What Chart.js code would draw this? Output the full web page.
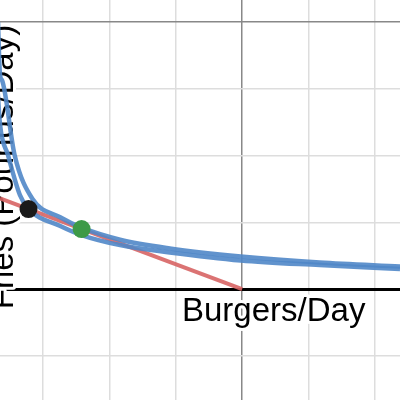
<!DOCTYPE html>
<html><head><style>html,body{margin:0;padding:0;background:#fff}#w{width:400px;height:400px}</style>
<script src="https://cdn.jsdelivr.net/npm/chart.js@4"></script></head>
<body><div id="w"><canvas id="c"></canvas></div>
<script>
const curveAx=[0.30,0.35,0.47,0.65,0.78,1.25,1.58,2.16,2.91,3.98,5.17,6.38];
const curveAy=[3.20,2.47,2.01,1.41,1.20,0.95,0.81,0.66,0.55,0.43,0.36,0.30];
const curveBx=[0.32,0.35,0.38,0.57,0.84,1.25,1.58,2.16,2.91,3.98,5.17,6.38];
const curveBy=[4.00,3.21,3.13,2.01,1.35,1.08,0.92,0.74,0.61,0.49,0.40,0.34];
const budgetX=[0.35,4];
const budgetY=[1.36,0];
const blackPt=[0.78,1.20];
const greenPt=[1.58,0.90];
const xLabel="Burgers/Day", yLabel="Fries (Pounds/Day)";
const zip=(a,b)=>a.map((v,i)=>({x:v,y:b[i]}));
const blue='rgba(80,135,200,0.9)';
const labels={id:'labels',beforeDatasetsDraw(ch){const c=ch.ctx;c.save();c.font='33px "Liberation Sans"';c.lineJoin='round';c.fillStyle='#000';c.strokeStyle='#fff';c.lineWidth=6;
c.textAlign='left';c.textBaseline='alphabetic';c.strokeText(xLabel,182,321);c.fillText(xLabel,182,321);
c.translate(13,167);c.rotate(-Math.PI/2);c.textAlign='center';c.strokeText(yLabel,0,0);c.fillText(yLabel,0,0);c.restore();}};
new Chart(document.getElementById('c'),{type:'scatter',data:{datasets:[
{data:[{x:blackPt[0],y:blackPt[1]}],pointRadius:9,backgroundColor:'#1a1a1a',borderWidth:0},
{data:[{x:greenPt[0],y:greenPt[1]}],pointRadius:9,backgroundColor:'#3d9a47',borderWidth:0},
{data:zip(curveAx,curveAy),showLine:true,borderColor:blue,borderWidth:4.5,pointRadius:0,cubicInterpolationMode:'monotone'},
{data:zip(curveBx,curveBy),showLine:true,borderColor:blue,borderWidth:4.5,pointRadius:0,cubicInterpolationMode:'monotone'},
{data:zip(budgetX,budgetY),showLine:true,borderColor:'rgba(215,100,100,0.9)',borderWidth:4,pointRadius:0}
]},plugins:[labels],options:{animation:false,responsive:true,maintainAspectRatio:false,layout:{padding:0,autoPadding:false},
plugins:{legend:{display:false},tooltip:{enabled:false}},
scales:{x:{min:0.35,max:6.38,afterFit(s){s.height=0;},afterBuildTicks(s){s.ticks=[1,2,3,4,5,6].map(v=>({value:v}));},ticks:{display:false},border:{display:false},
grid:{drawTicks:false,lineWidth:1.5,color:c=>c.tick&&c.tick.value===4?'#888':'#ddd'}},
y:{min:-1.66,max:4.33,afterFit(s){s.width=0;},afterBuildTicks(s){s.ticks=[-1,0,1,2,3,4].map(v=>({value:v}));},ticks:{display:false},border:{display:false},
grid:{drawTicks:false,lineWidth:c=>c.tick&&c.tick.value===0?3:1.5,color:c=>c.tick&&c.tick.value===0?'#000':(c.tick&&c.tick.value===4?'#888':'#ddd')}}}}});
</script></body></html>
